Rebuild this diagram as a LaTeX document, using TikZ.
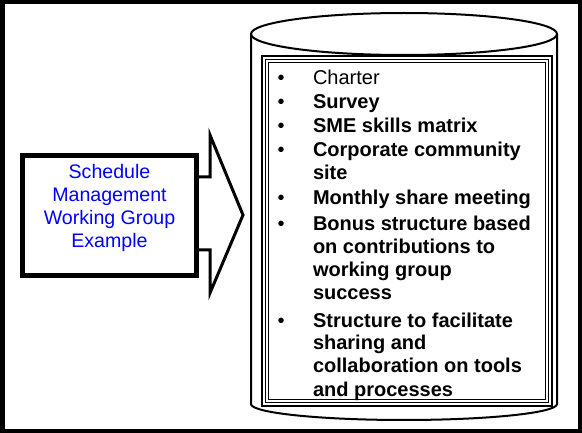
\documentclass[tikz,border=0pt]{standalone}
\usepackage{fontspec}
\setmainfont{Liberation Sans}
\begin{document}
\begin{tikzpicture}[x=1pt,y=-1pt,
  every node/.style={inner sep=0pt,outer sep=0pt},
  boxtext/.style={font=\fontsize{19.6}{23}\selectfont,text=blue,anchor=base},
  itemtext/.style={font=\fontsize{20}{23}\selectfont\bfseries,anchor=base west},
  plaintext/.style={font=\fontsize{20}{23}\selectfont,anchor=base west},
  bullet/.style={font=\fontsize{20}{23}\selectfont,anchor=base}]
\useasboundingbox (0,0) rectangle (582,433);
% outer border
\draw[line width=4.5pt] (2.25,2.25) rectangle (579.75,430.75);
% cylinder
\draw[line width=2pt,fill=white] (251,34) -- (251,404) arc[start angle=180,end angle=0,x radius=153,y radius=16] -- (557,34);
\draw[line width=2pt,fill=white] (404,34) ellipse [x radius=153,y radius=21];
% inner triple frame
\draw[line width=1.6pt] (262,56) rectangle (552,406);
\draw[line width=1.2pt] (265.5,59.5) rectangle (548.5,402.5);
\draw[line width=1pt] (268.5,62.5) rectangle (545.5,399.5);
% arrow
\draw[line width=3pt,fill=white,line join=miter] (190,177) -- (210,177) -- (210,135) -- (243,215) -- (210,293) -- (210,250) -- (190,250) -- cycle;
% box
\node[draw,line width=5pt,fill=white,minimum width=174pt,minimum height=120pt] (box) at (109.5,215.5) {};
\node[boxtext] (l1) at (109.5,179) {Schedule};
\node[boxtext] (l2) at (109.5,202) {Management};
\node[boxtext] (l3) at (109.5,225) {Working Group};
\node[boxtext] (l4) at (109.5,248) {Example};
% list
\node[bullet] (b1) at (281,85) {•};
\node[plaintext] (t1) at (313,85) {Charter};
\node[bullet] (b2) at (281,109) {•};
\node[itemtext] (t2) at (313,109) {Survey};
\node[bullet] (b3) at (281,133) {•};
\node[itemtext] (t3) at (313,133) {SME skills matrix};
\node[bullet] (b4) at (281,157) {•};
\node[itemtext] (t4a) at (313,157) {Corporate community};
\node[itemtext] (t4b) at (313,180) {site};
\node[bullet] (b5) at (281,205) {•};
\node[itemtext] (t5) at (313,205) {Monthly share meeting};
\node[bullet] (b6) at (281,231) {•};
\node[itemtext] (t6a) at (313,231) {Bonus structure based};
\node[itemtext] (t6b) at (313,254) {on contributions to};
\node[itemtext] (t6c) at (313,277) {working group};
\node[itemtext] (t6d) at (313,300) {success};
\node[bullet] (b7) at (281,327) {•};
\node[itemtext] (t7a) at (313,327) {Structure to facilitate};
\node[itemtext] (t7b) at (313,350) {sharing and};
\node[itemtext] (t7c) at (313,373) {collaboration on tools};
\node[itemtext] (t7d) at (313,396) {and processes};
\end{tikzpicture}
\end{document}
